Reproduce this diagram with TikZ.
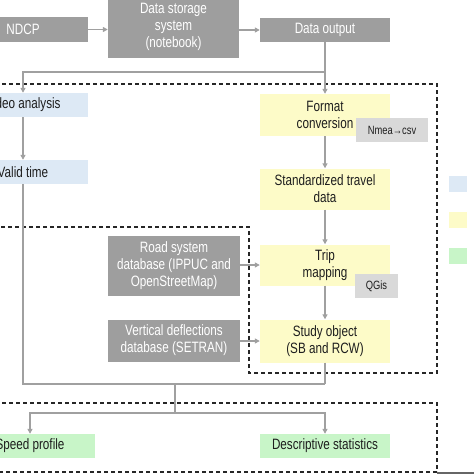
\documentclass[tikz,border=0pt]{standalone}
\usepackage{fontspec}
\setmainfont{Liberation Sans}[FakeStretch=0.78]
\usetikzlibrary{arrows.meta}
\definecolor{boxgray}{RGB}{158,158,158}
\definecolor{lightgray}{RGB}{217,217,217}
\definecolor{vblue}{RGB}{221,233,245}
\definecolor{vyellow}{RGB}{253,251,200}
\definecolor{vgreen}{RGB}{200,245,200}
\definecolor{linegray}{RGB}{160,160,160}
\definecolor{txt}{RGB}{30,30,30}
\begin{document}
\begin{tikzpicture}[x=1pt,y=-1pt,
  box/.style={rectangle, inner sep=0pt, align=center, font=\fontsize{15}{17}\selectfont},
  graybox/.style={box, fill=boxgray, text=white},
  bluebox/.style={box, fill=vblue, text=txt},
  yellowbox/.style={box, fill=vyellow, text=txt},
  greenbox/.style={box, fill=vgreen, text=txt},
  tagbox/.style={rectangle, inner sep=0pt, fill=lightgray, text=txt, font=\fontsize{12}{14}\selectfont},
  conn/.style={draw=linegray, line width=1.4pt},
  arr/.style={conn, -{Triangle[length=5pt,width=5pt]}},
  frame/.style={draw=black!85, line width=1.2pt, dash pattern=on 4pt off 3pt},
  legsq/.style={rectangle, inner sep=0pt, minimum width=18pt, minimum height=16pt}
]
\useasboundingbox (0,0) rectangle (474,474);
\clip (0,0) rectangle (474,474);

% dashed frames
\draw[frame] (-5,84) -- (437,84) -- (437,373) -- (249,373) -- (249,227) -- (-5,227);
\draw[frame] (-5,403) -- (437,403) -- (437,472) -- (-5,472);
\draw[draw=black!60, line width=1.5pt] (437,473) -- (480,473);

% nodes
\node[graybox, minimum width=130pt, minimum height=25pt] (ndcp) at (23,29.5) {NDCP};
\node[graybox, minimum width=131pt, minimum height=62pt] (store) at (173.5,27) {Data storage\\system\\(notebook)};
\node[graybox, minimum width=130pt, minimum height=24pt] (out) at (325,30) {Data output};

\node[bluebox, minimum width=130pt, minimum height=24pt] (video) at (23,105) {Video analysis};
\node[bluebox, minimum width=130pt, minimum height=24pt] (valid) at (23,172) {Valid time};

\node[yellowbox, minimum width=130pt, minimum height=42pt] (fmt) at (325,115) {Format\\conversion};
\node[tagbox, minimum width=72pt, minimum height=24pt] (nmea) at (392,130) {Nmea→csv};
\node[yellowbox, minimum width=130pt, minimum height=41pt] (std) at (325,189) {Standardized travel\\data};
\node[yellowbox, minimum width=130pt, minimum height=41pt] (trip) at (325,265) {Trip\\mapping};
\node[tagbox, minimum width=43pt, minimum height=24pt] (qgis) at (376.5,286) {QGis};
\node[yellowbox, minimum width=130pt, minimum height=43pt] (study) at (325,341) {Study object\\(SB and RCW)};

\node[graybox, minimum width=132pt, minimum height=60pt] (road) at (174,265.5) {Road system\\database (IPPUC and\\OpenStreetMap)};
\node[graybox, minimum width=132pt, minimum height=42pt] (vert) at (174,340.5) {Vertical deflections\\database (SETRAN)};

\node[greenbox, minimum width=130pt, minimum height=24pt] (speed) at (30,446) {Speed profile};
\node[greenbox, minimum width=130pt, minimum height=24pt] (desc) at (325,446) {Descriptive statistics};

% legend squares
\node[legsq, fill=vblue] (legb) at (458,184) {};
\node[legsq, fill=vyellow] (legy) at (458,219.5) {};
\node[legsq, fill=vgreen] (legg) at (458,256) {};

% junction coordinates
\coordinate (b1) at (325,72);
\coordinate (j1) at (325,384);
\coordinate (j2) at (175,384);
\coordinate (j3) at (175,413);
\coordinate (j4) at (325,413);

% connectors
\draw[arr] (ndcp.east) -- (ndcp.east -| store.west);
\draw[arr] (store.east |- out.west) -- (out.west);
\draw[arr] (out.south) -- (fmt.north);
\draw[arr] (b1) -| (video.north);
\draw[arr] (video.south) -- (valid.north);
\draw[conn] (valid.south) |- (j1);
\draw[conn] (study.south) -- (j1);
\draw[conn] (j2) -- (j3);
\draw[arr] (j3) -| (speed.north);
\draw[arr] (j3) -- (j4) -- (desc.north);
\draw[arr] (fmt.south) -- (std.north);
\draw[arr] (std.south) -- (trip.north);
\draw[arr] (trip.south) -- (study.north);
\draw[arr] (road.east |- trip.west) -- (trip.west);
\draw[arr] (vert.east |- study.west) -- (study.west);
\end{tikzpicture}
\end{document}
